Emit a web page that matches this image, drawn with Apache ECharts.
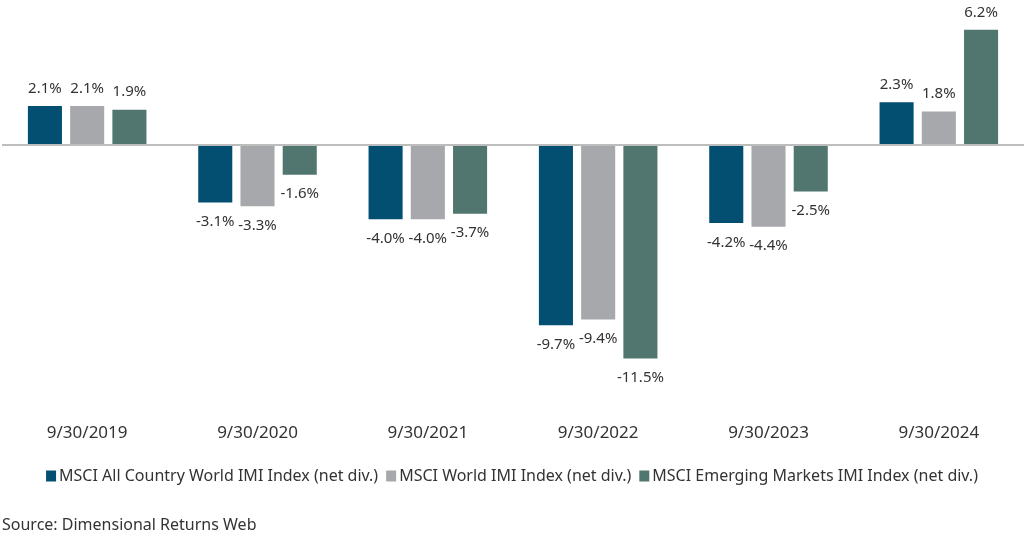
<!DOCTYPE html>
<html>
<head>
<meta charset="utf-8">
<script src="https://cdn.jsdelivr.net/npm/echarts@6/dist/echarts.min.js"></script>
<style>
  html, body { margin: 0; padding: 0; background: #fff; }
  #chart { width: 1024px; height: 536px; }
</style>
</head>
<body>
<div id="chart"></div>
<script>
const categories = ['9/30/2019', '9/30/2020', '9/30/2021', '9/30/2022', '9/30/2023', '9/30/2024'];
const seriesNames = [
  'MSCI All Country World IMI Index (net div.)',
  'MSCI World IMI Index (net div.)',
  'MSCI Emerging Markets IMI Index (net div.)'
];
const acwi = [2.1, -3.1, -4.0, -9.7, -4.2, 2.3];
const world = [2.1, -3.3, -4.0, -9.4, -4.4, 1.8];
const emerging = [1.9, -1.6, -3.7, -11.5, -2.5, 6.2];
const colors = ['#024f72', '#a7a8ab', '#51766f'];

const font = '"Liberation Sans Narrow", "Noto Sans", sans-serif';

// positive labels above, negative below
function toData(values) {
  return values.map(v => ({
    value: v,
    label: { position: v >= 0 ? 'top' : 'bottom', distance: v >= 0 ? 10 : 12 }
  }));
}

function makeSeries(name, values, i) {
  const s = {
    name: name,
    type: 'bar',
    data: toData(values),
    barWidth: '20%',
    barGap: '24%',
    itemStyle: { color: colors[i] },
    label: {
      show: true,
      color: '#333',
      fontFamily: font,
      fontSize: 15,
      formatter: p => p.value.toFixed(1) + '%'
    }
  };
  if (i === 0) {
    s.markLine = {
      silent: true,
      symbol: 'none',
      label: { show: false },
      lineStyle: { color: '#bdbdbd', width: 2, type: 'solid' },
      data: [{ yAxis: 0 }]
    };
  }
  return s;
}

const chart = echarts.init(document.getElementById('chart'));
chart.setOption({
  animation: false,
  textStyle: { fontFamily: font },
  grid: { left: 2, right: 0, top: 15, height: 390 },
  legend: {
    bottom: 47,
    left: 'center',
    itemWidth: 10,
    itemHeight: 11,
    itemGap: 8,
    icon: 'rect',
    textStyle: { fontFamily: font, fontSize: 16, color: '#333', padding: [0, 0, 0, -2] },
    data: seriesNames
  },
  graphic: [{
    type: 'text',
    left: 2,
    top: 517,
    style: { text: 'Source: Dimensional Returns Web', fontFamily: font, fontSize: 16, fill: '#333' }
  }],
  xAxis: {
    type: 'category',
    data: categories,
    position: 'bottom',
    axisLine: { show: false },
    axisTick: { show: false },
    axisLabel: { margin: 20, fontSize: 17, color: '#333', fontFamily: font }
  },
  yAxis: {
    type: 'value',
    min: -14,
    max: 7,
    show: false,
    splitLine: { show: false }
  },
  series: [
    makeSeries(seriesNames[0], acwi, 0),
    makeSeries(seriesNames[1], world, 1),
    makeSeries(seriesNames[2], emerging, 2)
  ]
});
</script>
</body>
</html>
